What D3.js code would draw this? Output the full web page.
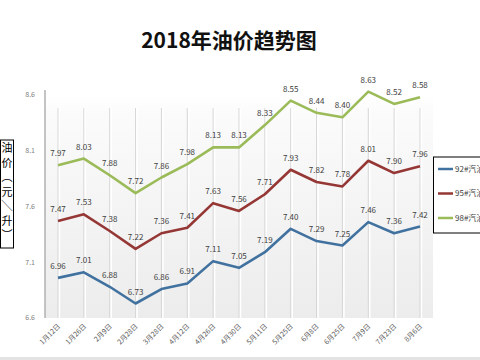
<!DOCTYPE html>
<html>
<head>
<meta charset="utf-8">
<script src="https://cdn.jsdelivr.net/npm/d3@7"></script>
<style>
  body { margin: 0; background: #fff; }
  svg { display: block; font-family: "Noto Sans CJK SC", "Noto Sans", sans-serif; }
</style>
</head>
<body>
<div id="chart"></div>
<script>
// fechas de ajuste de precio
const categories = ["1月12日", "1月26日", "2月9日", "2月28日", "3月28日", "4月12日", "4月26日",
  "4月30日", "5月11日", "5月25日", "6月8日", "6月25日", "7月9日", "7月23日", "8月6日"];

const seriesNames = ["92#汽油", "95#汽油", "98#汽油"];
const oil92 = [6.96, 7.01, 6.88, 6.73, 6.86, 6.91, 7.11, 7.05, 7.19, 7.40, 7.29, 7.25, 7.46, 7.36, 7.42];
const oil95 = [7.47, 7.53, 7.38, 7.22, 7.36, 7.41, 7.63, 7.56, 7.71, 7.93, 7.82, 7.78, 8.01, 7.90, 7.96];
const oil98 = [7.97, 8.03, 7.88, 7.72, 7.86, 7.98, 8.13, 8.13, 8.33, 8.55, 8.44, 8.40, 8.63, 8.52, 8.58];
const yTicks = [6.6, 7.1, 7.6, 8.1, 8.6];
const colors = ["#41729f", "#953735", "#9bbb59"];

const series = [oil92, oil95, oil98];

const width = 480, height = 360;
const svg = d3.select("#chart").append("svg")
  .attr("width", width)
  .attr("height", height);

const x = d3.scalePoint().domain(categories).range([58, 420]);
const y = d3.scaleLinear().domain([6.6, 8.6]).range([318, 95]);

// fondo degradado del área de trazado
const defs = svg.append("defs");
const grad = defs.append("linearGradient").attr("id", "bg").attr("x1", 0).attr("y1", 0).attr("x2", 0).attr("y2", 1);
grad.append("stop").attr("offset", "0%").attr("stop-color", "#ffffff");
grad.append("stop").attr("offset", "8%").attr("stop-color", "#fbfbfb");
grad.append("stop").attr("offset", "100%").attr("stop-color", "#ececec");

svg.append("rect")
  .attr("x", 45).attr("y", 95)
  .attr("width", 388).attr("height", 318 - 95)
  .attr("fill", "url(#bg)");

// líneas verticales de cada fecha
svg.selectAll(".vgrid")
  .data(categories)
  .enter().append("line")
  .attr("x1", d => x(d)).attr("x2", d => x(d))
  .attr("y1", 108).attr("y2", 318)
  .attr("stroke", "#d6d6d6")
  .attr("stroke-width", 1);
svg.selectAll(".vgrid2")
  .data(categories)
  .enter().append("line")
  .attr("x1", d => x(d) + 1.5).attr("x2", d => x(d) + 1.5)
  .attr("y1", 108).attr("y2", 318)
  .attr("stroke", "#ffffff")
  .attr("stroke-width", 1.5);

// eje y
svg.append("line")
  .attr("x1", 45).attr("x2", 45)
  .attr("y1", 90).attr("y2", 318)
  .attr("stroke", "#b0b0b0")
  .attr("stroke-width", 1.5);

svg.selectAll(".ytick")
  .data(yTicks)
  .enter().append("text")
  .attr("x", 35)
  .attr("y", d => y(d))
  .attr("dy", "0.35em")
  .attr("text-anchor", "end")
  .attr("font-size", 7)
  .attr("fill", "#7f7f7f")
  .text(d => d3.format(".1f")(d));

// etiquetas de fechas
svg.selectAll(".xtick")
  .data(categories)
  .enter().append("text")
  .attr("transform", d => `translate(${x(d) + 1},${325}) rotate(-45)`)
  .attr("text-anchor", "end")
  .attr("dy", "0.35em")
  .attr("font-size", 7)
  .attr("fill", "#595959")
  .text(d => d);

// líneas de precio
const line = d3.line()
  .x((d, i) => x(categories[i]))
  .y(d => y(d));

series.forEach((vals, k) => {
  svg.append("path")
    .datum(vals)
    .attr("d", line)
    .attr("fill", "none")
    .attr("stroke", colors[k])
    .attr("stroke-width", 2.6)
    .attr("stroke-linejoin", "round");

  svg.selectAll(".lbl" + k)
    .data(vals)
    .enter().append("text")
    .attr("x", (d, i) => x(categories[i]))
    .attr("y", d => y(d) - 9)
    .attr("text-anchor", "middle")
    .attr("font-size", 8)
    .attr("fill", "#404040")
    .text(d => d3.format(".2f")(d));
});

// título
svg.append("text")
  .attr("x", 229).attr("y", 48)
  .attr("text-anchor", "middle")
  .attr("font-size", 21)
  .attr("font-weight", "bold")
  .attr("fill", "#111")
  .text("2018年油价趋势图");

// título del eje y en caja vertical
svg.append("rect")
  .attr("x", 0.5).attr("y", 140)
  .attr("width", 13).attr("height", 108)
  .attr("fill", "#fff")
  .attr("stroke", "#000")
  .attr("stroke-width", 1);

const yTitleChars = ["油", "价", "︵", "元", "╲", "升", "︶"];
svg.selectAll(".ytitle")
  .data(yTitleChars)
  .enter().append("text")
  .attr("x", 7)
  .attr("y", (d, i) => 152 + i * 14.5)
  .attr("text-anchor", "middle")
  .attr("font-size", 11)
  .attr("fill", "#000")
  .text(d => d);

// leyenda
const legend = svg.append("g");
legend.append("rect")
  .attr("x", 433.5).attr("y", 157)
  .attr("width", 60).attr("height", 76)
  .attr("fill", "#fff")
  .attr("stroke", "#000")
  .attr("stroke-width", 1);

seriesNames.forEach((name, k) => {
  const ly = 169 + k * 24.5;
  legend.append("line")
    .attr("x1", 438).attr("x2", 453)
    .attr("y1", ly).attr("y2", ly)
    .attr("stroke", colors[k])
    .attr("stroke-width", 2.5);
  legend.append("text")
    .attr("x", 455).attr("y", ly)
    .attr("dy", "0.35em")
    .attr("font-size", 8)
    .attr("fill", "#404040")
    .text(name);
});

// franja gris inferior
svg.append("rect")
  .attr("x", 0).attr("y", 357)
  .attr("width", width).attr("height", 3)
  .attr("fill", "#e3e3e3");
</script>
</body>
</html>
